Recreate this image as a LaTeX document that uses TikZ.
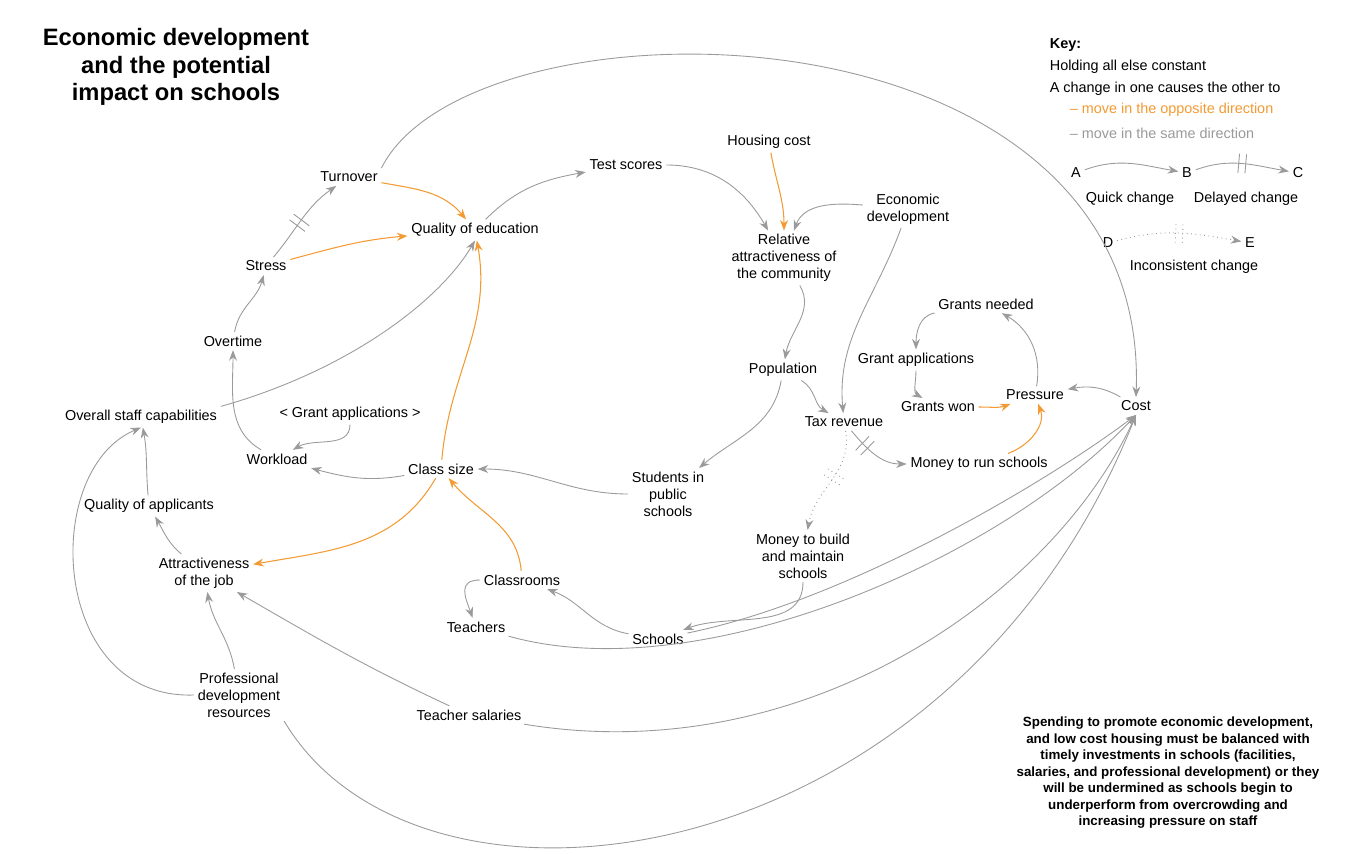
\documentclass[tikz,border=0pt]{standalone}
\usepackage{fontspec}
\setmainfont{Liberation Sans}
\usetikzlibrary{arrows.meta,decorations.markings}
\definecolor{lg}{HTML}{9A9A9A}
\definecolor{og}{HTML}{F39A32}
\begin{document}
\begin{tikzpicture}[x=0.02cm,y=0.02cm,
  n/.style={font=\fontsize{8.2}{9.6}\selectfont, align=center, inner sep=2pt, text=black},
  e/.style={draw=lg, line width=0.5pt, -{Stealth[length=6pt,width=4.5pt]}},
  o/.style={draw=og, line width=0.6pt, -{Stealth[length=6pt,width=4.5pt]}},
  dl/.style={postaction={decorate,decoration={markings,mark=at position #1 with {\draw[lg,-,line width=0.5pt] (-2pt,-5.5pt)--(-2pt,5.5pt) (2pt,-5.5pt)--(2pt,5.5pt);}}}},
  dlx/.style={postaction={decorate,decoration={markings,mark=at position #1 with {\draw[lg,-,line width=0.5pt,dotted] (-2pt,-5.5pt)--(-2pt,5.5pt) (2pt,-5.5pt)--(2pt,5.5pt);}}}}
]
\useasboundingbox (0,0) rectangle (1369,-854);
% title
\node[font=\bfseries\fontsize{13.5}{15.5}\selectfont, align=center] (title) at (176,-67) {Economic development\\and the potential\\impact on schools};
% key
\begin{scope}[every node/.style={n, anchor=west}]
\node[font=\bfseries\fontsize{8.2}{9.6}\selectfont] (k1) at (1046,-45) {Key:};
\node (k2) at (1046,-67) {Holding all else constant};
\node (k3) at (1046,-89) {A change in one causes the other to};
\node[text=og] (k4) at (1066,-110) {– move in the opposite direction};
\node[text=lg] (k5) at (1066,-133) {– move in the same direction};
\end{scope}
\node[n] (kA) at (1076,-173) {A};
\node[n] (kB) at (1187,-173) {B};
\node[n] (kC) at (1298,-173) {C};
\node[n] (kq) at (1130,-199) {Quick change};
\node[n] (kd) at (1246,-199) {Delayed change};
\node[n] (kD) at (1108,-243) {D};
\node[n] (kE) at (1250,-243) {E};
\node[n] (ki) at (1194,-267) {Inconsistent change};
\draw[e] (kA) to[out=20,in=170] (kB);
\draw[e,dl=0.5] (kB) to[out=20,in=170] (kC);
\draw[e,dotted,dlx=0.5] (kD) to[out=15,in=170] (kE);
% nodes
\node[n] (tu) at (349,-177) {Turnover};
\node[n] (qe) at (475,-230) {Quality of education};
\node[n] (ts) at (626,-165) {Test scores};
\node[n] (hc) at (769,-142) {Housing cost};
\node[n] (ed) at (908,-209) {Economic\\development};
\node[n] (ra) at (784,-258) {Relative\\attractiveness of\\the community};
\node[n] (st) at (266,-266) {Stress};
\node[n] (ov) at (233,-341) {Overtime};
\node[n] (gn) at (986,-304) {Grants needed};
\node[n] (ga) at (916,-360) {Grant applications};
\node[n] (po) at (783,-370) {Population};
\node[n] (gw) at (938,-407) {Grants won};
\node[n] (pr) at (1035,-395) {Pressure};
\node[n] (co) at (1136,-406) {Cost};
\node[n] (tr) at (844,-422) {Tax revenue};
\node[n] (mr) at (979,-464) {Money to run schools};
\node[n] (os) at (141,-417) {Overall staff capabilities};
\node[n] (ga2) at (350,-414) {< Grant applications >};
\node[n] (wl) at (277,-459) {Workload};
\node[n] (cs) at (441,-469) {Class size};
\node[n] (sp) at (668,-494) {Students in\\public\\schools};
\node[n] (qa) at (149,-506) {Quality of applicants};
\node[n] (aj) at (204,-573) {Attractiveness\\of the job};
\node[n] (cr) at (522,-580) {Classrooms};
\node[n] (mb) at (803,-556) {Money to build\\and maintain\\schools};
\node[n] (te) at (476,-627) {Teachers};
\node[n] (sc) at (658,-639) {Schools};
\node[n] (pd) at (239,-695) {Professional\\development\\resources};
\node[n] (sa) at (469,-715) {Teacher salaries};
\node[n, font=\bfseries\fontsize{7.6}{9.4}\selectfont] (note) at (1168,-773) {Spending to promote economic development,\\and low cost housing must be balanced with\\timely investments in schools (facilities,\\salaries, and professional development) or they\\will be undermined as schools begin to\\underperform from overcrowding and\\increasing pressure on staff};
% edges
\draw[o] (tu) to[out=-10,in=130] (qe);
\draw[o] (st) to[out=15,in=185] (qe);
\draw[e,dl=0.45] (st) to[out=50,in=215] (tu);
\draw[e] (ov) to[out=80,in=255] (st);
\draw[e] (wl) to[out=150,in=270] (ov);
\draw[e] (tu.north east) .. controls (470,10) and (1150,10) .. (co.north);
\draw[e] (qe) to[out=45,in=190] (ts);
\draw[e] (ts) to[out=0,in=120] (ra);
\draw[o] (hc) to[out=-80,in=90] (ra);
\draw[e] (ed) to[out=175,in=70] (ra);
\draw[e] (ed) to[out=-110,in=95] (tr);
\draw[e] (ra) to[out=-60,in=80] (po);
\draw[e] (po) to[out=-30,in=150] (tr);
\draw[e] (po) to[out=-100,in=40] (sp);
\draw[e] (sp) to[out=180,in=0] (cs);
\draw[e] (cs) to[out=190,in=-15] (wl);
\draw[e] (ga2) to[out=-90,in=30] (wl);
\draw[o] (cs) to[out=85,in=-80] (qe);
\draw[o] (cs) to[out=-120,in=10] (aj);
\draw[o] (cr) to[out=95,in=-50] (cs);
\draw[e] (cr.west) to[out=180,in=110,looseness=1.5] (te);
\draw[e] (sc) to[out=170,in=-20] (cr);
\draw[e] (mb) to[out=-90,in=20] (sc);
\draw[e,dotted,dlx=0.45] (tr) to[out=-80,in=80] (mb);
\draw[e,dl=0.3] (tr) to[out=-50,in=180] (mr);
\draw[e] (ga) to[out=-90,in=150] (gw);
\draw[o] (gw) to[out=0,in=-160] (pr);
\draw[o] (mr) to[out=20,in=-70] (pr);
\draw[e] (pr) to[out=80,in=-30] (gn);
\draw[e] (gn) to[out=190,in=90] (ga);
\draw[e] (co) to[out=150,in=10] (pr);
\draw[e] (sc) .. controls (850,-600) and (1050,-480) .. (co.south);
\draw[e] (te) .. controls (700,-690) and (1000,-560) .. (co.south);
\draw[e] (sa) .. controls (800,-770) and (1050,-600) .. (co.south);
\draw[e] (pd.south east) .. controls (420,-950) and (950,-880) .. (co.south);
\draw[e] (sa) to[out=155,in=-30] (aj);
\draw[e] (pd) to[out=100,in=-80] (aj);
\draw[e] (pd.west) .. controls (50,-700) and (40,-470) .. (os.south);
\draw[e] (qa) to[out=95,in=-80] (os);
\draw[e] (aj) to[out=140,in=-60] (qa);
\draw[e] (os.north east) .. controls (350,-370) and (440,-300) .. (qe.south);
\end{tikzpicture}
\end{document}
